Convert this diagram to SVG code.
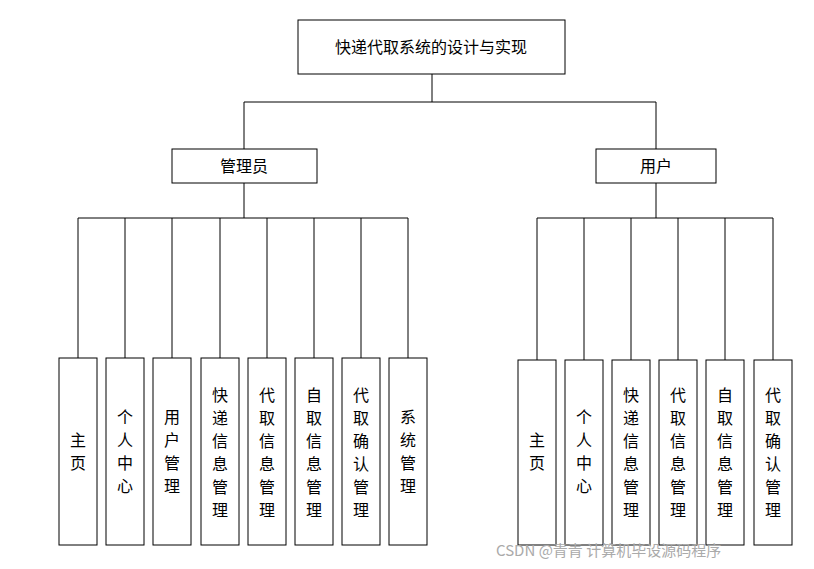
<svg xmlns="http://www.w3.org/2000/svg" width="814" height="569" viewBox="0 0 814 569">
<style>
rect{fill:#fff;stroke:#000;stroke-width:1}
text{font-family:"Noto Sans CJK SC","Liberation Sans",sans-serif;font-size:16px;fill:#000;text-anchor:middle}
.c line{stroke:#000;stroke-width:1}
.w{font-size:15px;fill:#aaa;text-anchor:start}
</style>
<rect x="0" y="0" width="814" height="569" style="fill:#fff;stroke:none"/>
<g class="c">
<line x1="432" y1="74" x2="432" y2="102"/>
<line x1="244" y1="102" x2="656" y2="102"/>
<line x1="244" y1="102" x2="244" y2="149"/>
<line x1="656" y1="102" x2="656" y2="149"/>
<line x1="244" y1="183" x2="244" y2="218"/>
<line x1="78" y1="218" x2="408" y2="218"/>
<line x1="78" y1="218" x2="78" y2="358"/>
<line x1="125" y1="218" x2="125" y2="358"/>
<line x1="172" y1="218" x2="172" y2="358"/>
<line x1="220" y1="218" x2="220" y2="358"/>
<line x1="267" y1="218" x2="267" y2="358"/>
<line x1="314" y1="218" x2="314" y2="358"/>
<line x1="361" y1="218" x2="361" y2="358"/>
<line x1="408" y1="218" x2="408" y2="358"/>
<line x1="656" y1="183" x2="656" y2="218"/>
<line x1="537" y1="218" x2="773" y2="218"/>
<line x1="537" y1="218" x2="537" y2="360"/>
<line x1="584" y1="218" x2="584" y2="360"/>
<line x1="631" y1="218" x2="631" y2="360"/>
<line x1="678" y1="218" x2="678" y2="360"/>
<line x1="725" y1="218" x2="725" y2="360"/>
<line x1="773" y1="218" x2="773" y2="360"/>
</g>
<g id="root"><rect x="298" y="20" width="267" height="54"/><text x="431" y="53">快递代取系统的设计与实现</text></g>
<g id="admin"><rect x="172" y="149" width="145" height="34"/><text x="244" y="172">管理员</text></g>
<g id="user"><rect x="596" y="149" width="120" height="34"/><text x="656" y="172">用户</text></g>
<g id="a1"><rect x="59" y="358" width="38" height="187"/><text x="78" y="446">主</text><text x="78" y="469">页</text></g>
<g id="a2"><rect x="106" y="358" width="38" height="187"/><text x="125" y="423">个</text><text x="125" y="446">人</text><text x="125" y="469">中</text><text x="125" y="492">心</text></g>
<g id="a3"><rect x="153" y="358" width="38" height="187"/><text x="172" y="423">用</text><text x="172" y="446">户</text><text x="172" y="469">管</text><text x="172" y="492">理</text></g>
<g id="a4"><rect x="201" y="358" width="38" height="187"/><text x="220" y="401">快</text><text x="220" y="424">递</text><text x="220" y="447">信</text><text x="220" y="470">息</text><text x="220" y="493">管</text><text x="220" y="516">理</text></g>
<g id="a5"><rect x="248" y="358" width="38" height="187"/><text x="267" y="401">代</text><text x="267" y="424">取</text><text x="267" y="447">信</text><text x="267" y="470">息</text><text x="267" y="493">管</text><text x="267" y="516">理</text></g>
<g id="a6"><rect x="295" y="358" width="38" height="187"/><text x="314" y="401">自</text><text x="314" y="424">取</text><text x="314" y="447">信</text><text x="314" y="470">息</text><text x="314" y="493">管</text><text x="314" y="516">理</text></g>
<g id="a7"><rect x="342" y="358" width="38" height="187"/><text x="361" y="401">代</text><text x="361" y="424">取</text><text x="361" y="447">确</text><text x="361" y="470">认</text><text x="361" y="493">管</text><text x="361" y="516">理</text></g>
<g id="a8"><rect x="389" y="358" width="38" height="187"/><text x="408" y="423">系</text><text x="408" y="446">统</text><text x="408" y="469">管</text><text x="408" y="492">理</text></g>
<g id="u1"><rect x="518" y="360" width="38" height="185"/><text x="537" y="446">主</text><text x="537" y="469">页</text></g>
<g id="u2"><rect x="565" y="360" width="38" height="185"/><text x="584" y="423">个</text><text x="584" y="446">人</text><text x="584" y="469">中</text><text x="584" y="492">心</text></g>
<g id="u3"><rect x="612" y="360" width="38" height="185"/><text x="631" y="401">快</text><text x="631" y="424">递</text><text x="631" y="447">信</text><text x="631" y="470">息</text><text x="631" y="493">管</text><text x="631" y="516">理</text></g>
<g id="u4"><rect x="659" y="360" width="38" height="185"/><text x="678" y="401">代</text><text x="678" y="424">取</text><text x="678" y="447">信</text><text x="678" y="470">息</text><text x="678" y="493">管</text><text x="678" y="516">理</text></g>
<g id="u5"><rect x="706" y="360" width="38" height="185"/><text x="725" y="401">自</text><text x="725" y="424">取</text><text x="725" y="447">信</text><text x="725" y="470">息</text><text x="725" y="493">管</text><text x="725" y="516">理</text></g>
<g id="u6"><rect x="754" y="360" width="38" height="185"/><text x="773" y="401">代</text><text x="773" y="424">取</text><text x="773" y="447">确</text><text x="773" y="470">认</text><text x="773" y="493">管</text><text x="773" y="516">理</text></g>
<text class="w" x="496" y="556">CSDN @青青  计算机毕设源码程序</text>
</svg>
